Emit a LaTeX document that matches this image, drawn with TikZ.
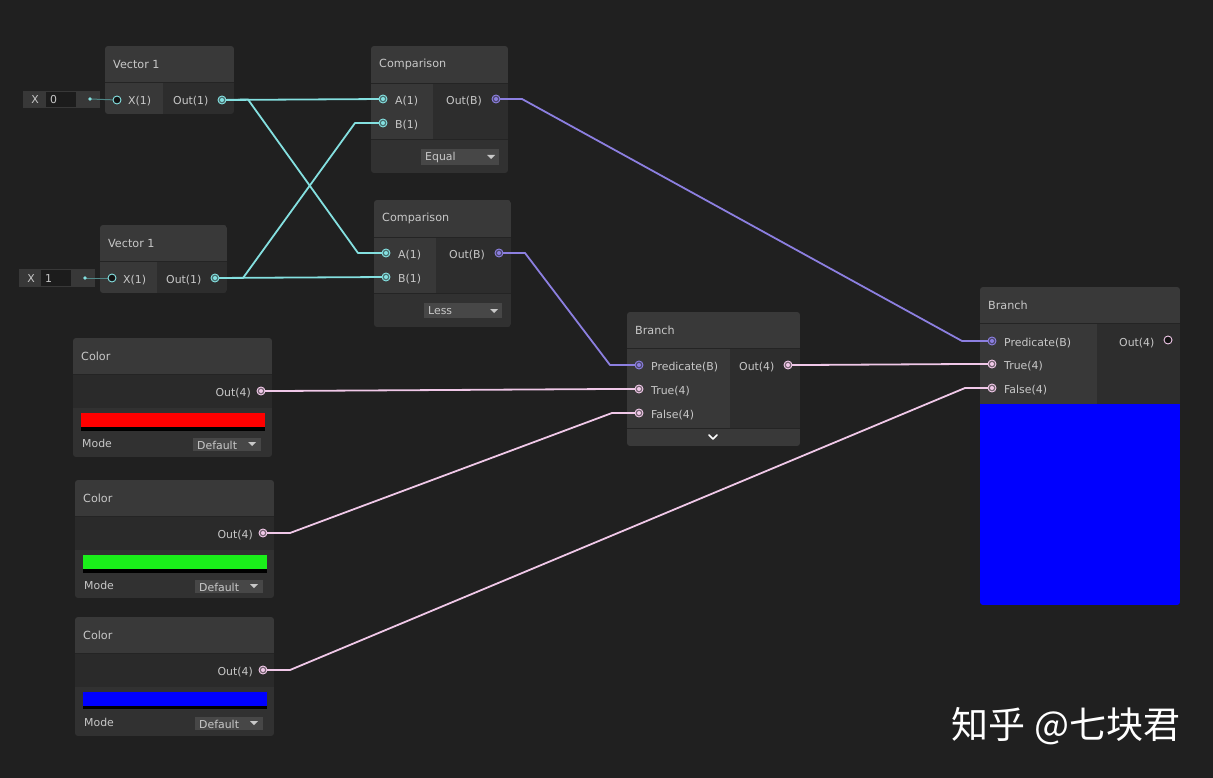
\documentclass[tikz,border=0pt]{standalone}
\usepackage{fontspec}
\setmainfont{DejaVu Sans}
\newfontfamily\cjk{Noto Sans CJK SC}
\definecolor{bg}{HTML}{202020}
\definecolor{hdr}{HTML}{393939}
\definecolor{lcol}{HTML}{383838}
\definecolor{rcol}{HTML}{2D2D2D}
\definecolor{foot}{HTML}{313131}
\definecolor{rowdk}{HTML}{2A2A2A}
\definecolor{sep}{HTML}{242424}
\definecolor{txt}{HTML}{C8C8C8}
\definecolor{ddc}{HTML}{474747}
\definecolor{fld}{HTML}{1C1C1C}
\definecolor{cyanw}{HTML}{84E0E0}
\definecolor{purw}{HTML}{8C7FE0}
\definecolor{pinkw}{HTML}{F0C8E8}
\definecolor{swgreen}{HTML}{1AF01A}
\begin{document}
\begin{tikzpicture}[x=1pt,y=-1pt,
  lbl/.style={text=txt, font=\fontsize{10.9}{12}\selectfont, inner sep=0, anchor=west},
  lble/.style={lbl, anchor=east},
  ttl/.style={text=txt, font=\fontsize{11.2}{13}\selectfont, inner sep=0, anchor=west},
  port/.style={circle, minimum size=8pt, inner sep=0, draw=#1, line width=0.9pt, fill=#1!40!bg,
    path picture={\fill[#1] (path picture bounding box.center) circle (2pt);}},
  hport/.style={circle, minimum size=8pt, inner sep=0, draw=#1, line width=0.9pt, fill=bg!60!black},
  cw/.style={draw=cyanw, line width=1.8pt, line join=round},
  pw/.style={draw=purw, line width=1.8pt, line join=round},
  kw/.style={draw=pinkw, line width=1.8pt, line join=round},
  ddbox/.style={fill=ddc},
  tri/.style={fill=txt}
]
\fill[bg] (0,0) rectangle (1213,778);
\useasboundingbox (0,0) rectangle (1213,778);

% ---------- port coordinates ----------
\coordinate (v1i) at (117,100);
\coordinate (v1o) at (222,100);
\coordinate (v2i) at (112,278);
\coordinate (v2o) at (215,278);
\coordinate (c1a) at (383,99);
\coordinate (c1b) at (383,123);
\coordinate (c1o) at (496,99);
\coordinate (c2a) at (386,253);
\coordinate (c2b) at (386,277);
\coordinate (c2o) at (499,253);
\coordinate (k1o) at (261,391);
\coordinate (k2o) at (263,533);
\coordinate (k3o) at (263,670);
\coordinate (b1p) at (639,365);
\coordinate (b1t) at (639,389);
\coordinate (b1f) at (639,413);
\coordinate (b1o) at (788,365);
\coordinate (b2p) at (992,341);
\coordinate (b2t) at (992,364);
\coordinate (b2f) at (992,388);
\coordinate (b2o) at (1168,340);
\coordinate (d1) at (90,99);
\coordinate (d2) at (85,278);

% ---------- Vector 1 (top) ----------
\begin{scope}
\clip[rounded corners=3] (105,46) rectangle (234,114);
\fill[hdr] (105,46) rectangle (234,82);
\fill[lcol] (105,82) rectangle (163,114);
\fill[rcol] (163,82) rectangle (234,114);
\draw[sep] (105,82) -- (234,82);
\end{scope}
\node[ttl] (v1t) at (113,64) {Vector 1};
\node[lbl] (v1il) at (128,101) {X(1)};
\node[lbl] (v1ol) at (173,101) {Out(1)};
\fill[lcol] (23,91) rectangle (100,108);
\fill[fld] (46,92) rectangle (76,107);
\node[lbl, anchor=center] (v1x) at (35,99.5) {X};
\node[lbl] (v1v) at (50,99.5) {0};

% ---------- Vector 1 (bottom) ----------
\begin{scope}
\clip[rounded corners=3] (100,225) rectangle (227,293);
\fill[hdr] (100,225) rectangle (227,261);
\fill[lcol] (100,261) rectangle (157,293);
\fill[rcol] (157,261) rectangle (227,293);
\draw[sep] (100,261) -- (227,261);
\end{scope}
\node[ttl] (v2t) at (108,243.5) {Vector 1};
\node[lbl] (v2il) at (123,280) {X(1)};
\node[lbl] (v2ol) at (166,280) {Out(1)};
\fill[lcol] (19,269) rectangle (95,287);
\fill[fld] (41,270) rectangle (71,286);
\node[lbl, anchor=center] (v2x) at (31,278.5) {X};
\node[lbl] (v2v) at (45,278.5) {1};

% ---------- Comparison 1 ----------
\begin{scope}
\clip[rounded corners=3] (371,46) rectangle (508,173);
\fill[hdr] (371,46) rectangle (508,83);
\fill[lcol] (371,83) rectangle (433,139);
\fill[rcol] (433,83) rectangle (508,139);
\fill[foot] (371,139) rectangle (508,173);
\draw[sep] (371,83) -- (508,83);
\draw[sep] (371,139) -- (508,139);
\end{scope}
\node[ttl] (c1t) at (379,64) {Comparison};
\node[lbl] (c1al) at (395,101) {A(1)};
\node[lbl] (c1bl) at (395,125) {B(1)};
\node[lbl] (c1ol) at (446,101) {Out(B)};
\fill[ddbox] (421,149) rectangle (499,165);
\node[lbl] (c1d) at (425,157.5) {Equal};
\fill[tri] (487,155) -- (495,155) -- (491,159) -- cycle;

% ---------- Comparison 2 ----------
\begin{scope}
\clip[rounded corners=3] (374,200) rectangle (511,327);
\fill[hdr] (374,200) rectangle (511,237);
\fill[lcol] (374,237) rectangle (436,293);
\fill[rcol] (436,237) rectangle (511,293);
\fill[foot] (374,293) rectangle (511,327);
\draw[sep] (374,237) -- (511,237);
\draw[sep] (374,293) -- (511,293);
\end{scope}
\node[ttl] (c2t) at (382,218) {Comparison};
\node[lbl] (c2al) at (398,255) {A(1)};
\node[lbl] (c2bl) at (398,279) {B(1)};
\node[lbl] (c2ol) at (449,255) {Out(B)};
\fill[ddbox] (424,303) rectangle (502,318);
\node[lbl] (c2d) at (428,311) {Less};
\fill[tri] (490,309) -- (498,309) -- (494,313) -- cycle;

% ---------- Color nodes ----------
\begin{scope}
\clip[rounded corners=3] (73,338) rectangle (272,457);
\fill[hdr] (73,338) rectangle (272,374);
\fill[rowdk] (73,374) rectangle (272,408);
\fill[foot] (73,408) rectangle (272,457);
\draw[sep] (73,374) -- (272,374);
\end{scope}
\node[ttl] (k1t) at (81,356) {Color};
\node[lble] (k1ol) at (251,393) {Out(4)};
\fill[red] (81,413) rectangle (265,427);
\fill[black] (81,427) rectangle (265,431);
\node[lbl] (k1m) at (82,443) {Mode};
\fill[ddbox] (193,438) rectangle (261,451);
\node[lbl] (k1d) at (197,445) {Default};
\fill[tri] (248,442) -- (256,442) -- (252,446) -- cycle;

\begin{scope}
\clip[rounded corners=3] (75,480) rectangle (274,598);
\fill[hdr] (75,480) rectangle (274,516);
\fill[rowdk] (75,516) rectangle (274,550);
\fill[foot] (75,550) rectangle (274,598);
\draw[sep] (75,516) -- (274,516);
\end{scope}
\node[ttl] (k2t) at (83,498) {Color};
\node[lble] (k2ol) at (253,535) {Out(4)};
\fill[swgreen] (83,555) rectangle (267,569);
\fill[black] (83,569) rectangle (267,573);
\node[lbl] (k2m) at (84,585) {Mode};
\fill[ddbox] (195,580) rectangle (263,593);
\node[lbl] (k2d) at (199,587) {Default};
\fill[tri] (250,584) -- (258,584) -- (254,588) -- cycle;

\begin{scope}
\clip[rounded corners=3] (75,617) rectangle (274,736);
\fill[hdr] (75,617) rectangle (274,653);
\fill[rowdk] (75,653) rectangle (274,687);
\fill[foot] (75,687) rectangle (274,736);
\draw[sep] (75,653) -- (274,653);
\end{scope}
\node[ttl] (k3t) at (83,635) {Color};
\node[lble] (k3ol) at (253,672) {Out(4)};
\fill[blue] (83,692) rectangle (267,706);
\fill[black] (83,706) rectangle (267,709);
\node[lbl] (k3m) at (84,722) {Mode};
\fill[ddbox] (195,717) rectangle (263,730);
\node[lbl] (k3d) at (199,724) {Default};
\fill[tri] (250,721) -- (258,721) -- (254,725) -- cycle;

% ---------- Branch 1 ----------
\begin{scope}
\clip[rounded corners=3] (627,312) rectangle (800,446);
\fill[hdr] (627,312) rectangle (800,348);
\fill[lcol] (627,348) rectangle (730,428);
\fill[rcol] (730,348) rectangle (800,428);
\fill[hdr] (627,428) rectangle (800,446);
\draw[sep] (627,348) -- (800,348);
\draw[sep] (627,428) -- (800,428);
\end{scope}
\node[ttl] (b1tt) at (635,330) {Branch};
\node[lbl] (b1pl) at (651,367) {Predicate(B)};
\node[lbl] (b1tl) at (651,391) {True(4)};
\node[lbl] (b1fl) at (651,415) {False(4)};
\node[lbl] (b1ol) at (739,367) {Out(4)};
\draw[white, line width=1.6pt, line cap=round, line join=round] (709,435) -- (713,439) -- (717,435);

% ---------- Branch 2 ----------
\begin{scope}
\clip[rounded corners=3] (980,287) rectangle (1180,605);
\fill[hdr] (980,287) rectangle (1180,323);
\fill[lcol] (980,323) rectangle (1097,404);
\fill[rcol] (1097,323) rectangle (1180,404);
\fill[blue] (980,404) rectangle (1180,605);
\draw[sep] (980,323) -- (1180,323);
\end{scope}
\node[ttl] (b2tt) at (988,305) {Branch};
\node[lbl] (b2pl) at (1004,343) {Predicate(B)};
\node[lbl] (b2tl) at (1004,366) {True(4)};
\node[lbl] (b2fl) at (1004,390) {False(4)};
\node[lbl] (b2ol) at (1119,343) {Out(4)};

% ---------- connectors ----------
\draw[cyanw!60!black, line width=1pt] (d1) -- (v1i);
\draw[cyanw!60!black, line width=1pt] (d2) -- (v2i);
\draw[cw] (v1o) -- (248,99.5) -- (358,253) -- (c2a);
\draw[cw] (v1o) -- (c1a);
\draw[cw] (v2o) -- (243,278) -- (355,123) -- (c1b);
\draw[cw] (v2o) -- (c2b);
\draw[pw] (c1o) -- (522,99) -- (962,341) -- (b2p);
\draw[pw] (c2o) -- (525,253) -- (610,365) -- (b1p);
\draw[kw] (k1o) -- (278,391) -- (612,389) -- (b1t);
\draw[kw] (k2o) -- (290,533) -- (612,413) -- (b1f);
\draw[kw] (b1o) -- (805,365) -- (965,364) -- (b2t);
\draw[kw] (k3o) -- (290,670) -- (965,388) -- (b2f);

% ---------- ports ----------
\node[hport=cyanw] (pv1i) at (v1i) {};
\node[port=cyanw] (pv1o) at (v1o) {};
\node[hport=cyanw] (pv2i) at (v2i) {};
\node[port=cyanw] (pv2o) at (v2o) {};
\fill[cyanw] (d1) circle (1.8);
\fill[cyanw] (d2) circle (1.8);
\node[port=cyanw] (pc1a) at (c1a) {};
\node[port=cyanw] (pc1b) at (c1b) {};
\node[port=purw] (pc1o) at (c1o) {};
\node[port=cyanw] (pc2a) at (c2a) {};
\node[port=cyanw] (pc2b) at (c2b) {};
\node[port=purw] (pc2o) at (c2o) {};
\node[port=pinkw] (pk1o) at (k1o) {};
\node[port=pinkw] (pk2o) at (k2o) {};
\node[port=pinkw] (pk3o) at (k3o) {};
\node[port=purw] (pb1p) at (b1p) {};
\node[port=pinkw] (pb1t) at (b1t) {};
\node[port=pinkw] (pb1f) at (b1f) {};
\node[port=pinkw] (pb1o) at (b1o) {};
\node[port=purw] (pb2p) at (b2p) {};
\node[port=pinkw] (pb2t) at (b2t) {};
\node[port=pinkw] (pb2f) at (b2f) {};
\node[hport=pinkw] (pb2o) at (b2o) {};

% ---------- watermark ----------
\node[text=white, font=\cjk\fontsize{37}{42}\selectfont, inner sep=0] (wm) at (1066,726) {知乎 @七块君};
\end{tikzpicture}
\end{document}
